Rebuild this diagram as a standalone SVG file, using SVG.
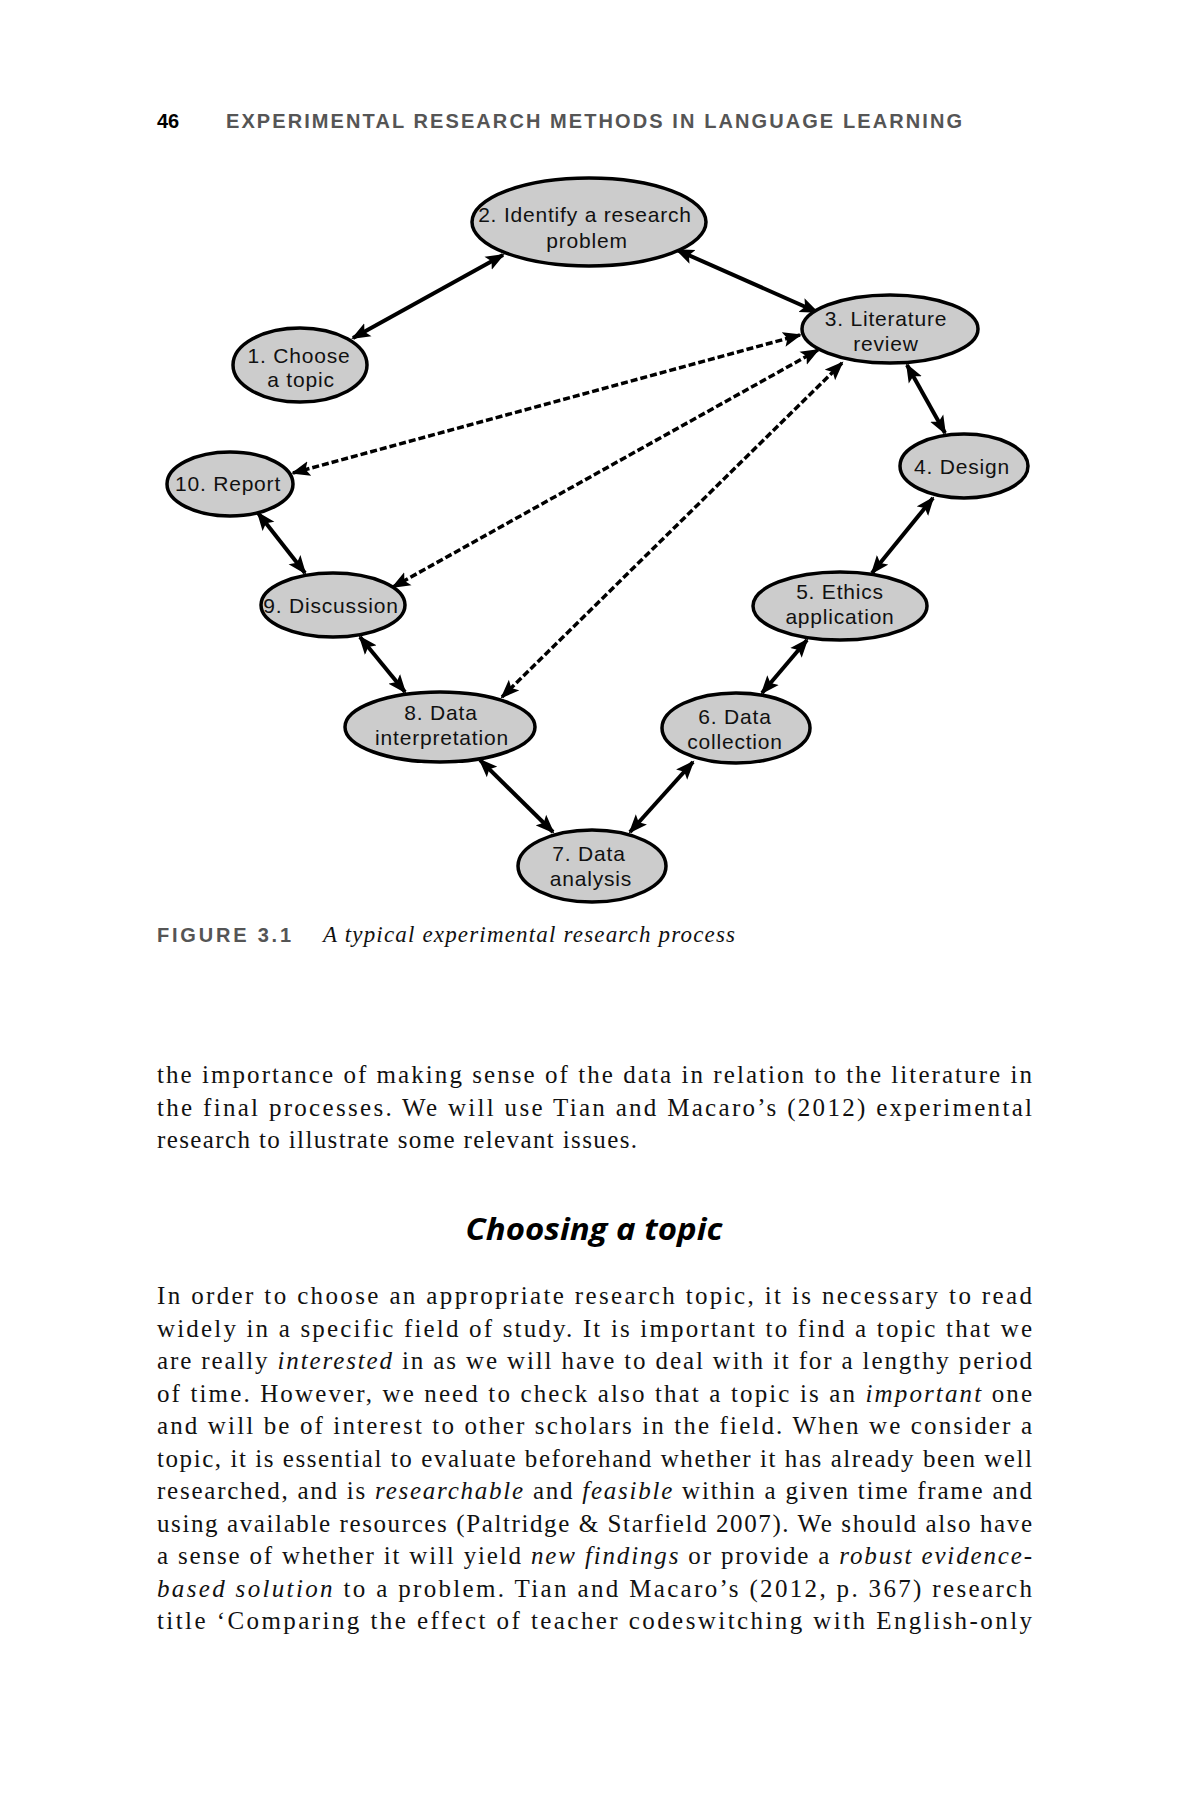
<svg xmlns="http://www.w3.org/2000/svg" width="1200" height="1800" viewBox="0 0 1200 1800">
<style>
.node ellipse{fill:#cccccc;stroke:#000;stroke-width:3.5}
.node text{font-family:"Liberation Sans",Arial,sans-serif;font-size:21px;letter-spacing:0.8px;fill:#111;text-anchor:middle}
.solid{stroke:#000;stroke-width:4;fill:none;marker-start:url(#ah);marker-end:url(#ah)}
.dash{stroke:#000;stroke-width:3.5;fill:none;stroke-dasharray:7 3;marker-start:url(#ah);marker-end:url(#ah)}
.hdr{font-family:"Liberation Sans",Arial,sans-serif;font-weight:bold;font-size:20px;fill:#555}
.body{font-family:"Liberation Serif","Times New Roman",serif;font-size:25px;fill:#111}
.it{font-style:italic}
</style>
<defs>
<marker id="ah" markerUnits="userSpaceOnUse" markerWidth="20" markerHeight="16" refX="17" refY="7.5" orient="auto-start-reverse" viewBox="0 0 20 15">
<path d="M0,0 L19,7.5 L0,15 L4,7.5 z" fill="#000"/>
</marker>
</defs>
<rect width="1200" height="1800" fill="#fff"/>

<g id="header">
<text x="157" y="128" font-family="Liberation Sans,Arial,sans-serif" font-weight="bold" font-size="20" fill="#000">46</text>
<text class="hdr" x="226" y="128" textLength="736" lengthAdjust="spacing">EXPERIMENTAL RESEARCH METHODS IN LANGUAGE LEARNING</text>
</g>

<g id="connectors">
<line class="solid" x1="353" y1="338" x2="503" y2="255"/>
<line class="solid" x1="677" y1="250" x2="817" y2="312"/>
<line class="solid" x1="907" y1="365" x2="945" y2="433"/>
<line class="solid" x1="933" y1="498" x2="872" y2="573"/>
<line class="solid" x1="807" y1="640" x2="762" y2="693"/>
<line class="solid" x1="693" y1="762" x2="630" y2="832"/>
<line class="solid" x1="480" y1="760" x2="553" y2="832"/>
<line class="solid" x1="360" y1="637" x2="405" y2="692"/>
<line class="solid" x1="258" y1="513" x2="305" y2="573"/>
<line class="dash" x1="293" y1="473" x2="800" y2="335"/>
<line class="dash" x1="393" y1="587" x2="818" y2="350"/>
<line class="dash" x1="502" y1="697" x2="842" y2="363"/>
</g>

<g id="n1" class="node"><ellipse cx="300" cy="365" rx="67" ry="37"/><text x="299" y="363">1. Choose</text><text x="301" y="387">a topic</text></g>
<g id="n2" class="node"><ellipse cx="589" cy="222" rx="117" ry="44"/><text x="585" y="222">2. Identify a research</text><text x="587" y="248">problem</text></g>
<g id="n3" class="node"><ellipse cx="890" cy="329" rx="88" ry="34"/><text x="886" y="326">3. Literature</text><text x="886" y="351">review</text></g>
<g id="n4" class="node"><ellipse cx="964" cy="466" rx="64" ry="32"/><text x="962" y="474">4. Design</text></g>
<g id="n5" class="node"><ellipse cx="840" cy="606" rx="87" ry="34"/><text x="840" y="599">5. Ethics</text><text x="840" y="624">application</text></g>
<g id="n6" class="node"><ellipse cx="736" cy="728" rx="74" ry="35"/><text x="735" y="724">6. Data</text><text x="735" y="749">collection</text></g>
<g id="n7" class="node"><ellipse cx="592" cy="866" rx="74" ry="36"/><text x="589" y="861">7. Data</text><text x="591" y="886">analysis</text></g>
<g id="n8" class="node"><ellipse cx="440" cy="727" rx="95" ry="35"/><text x="441" y="720">8. Data</text><text x="442" y="745">interpretation</text></g>
<g id="n9" class="node"><ellipse cx="333" cy="605" rx="72" ry="32"/><text x="331" y="613">9. Discussion</text></g>
<g id="n10" class="node"><ellipse cx="230" cy="484" rx="63" ry="32"/><text x="228" y="491">10. Report</text></g>

<g id="caption">
<text class="hdr" x="157" y="942" textLength="134" lengthAdjust="spacing">FIGURE 3.1</text>
<text x="323" y="942" font-family="Liberation Serif,Times New Roman,serif" font-style="italic" font-size="23" fill="#111" textLength="412" lengthAdjust="spacing">A typical experimental research process</text>
</g>

<g id="text">
<text class="body" x="157" y="1083" textLength="875" lengthAdjust="spacing">the importance of making sense of the data in relation to the literature in</text>
<text class="body" x="157" y="1116" textLength="875" lengthAdjust="spacing">the final processes. We will use Tian and Macaro’s (2012) experimental</text>
<text class="body" x="157" y="1148" textLength="480" lengthAdjust="spacing">research to illustrate some relevant issues.</text>
<text x="594" y="1240" text-anchor="middle" font-family="Open Sans,Liberation Sans,sans-serif" font-weight="bold" font-style="italic" font-size="31" fill="#000" textLength="257" lengthAdjust="spacingAndGlyphs">Choosing a topic</text>
<text class="body" x="157" y="1304" textLength="875" lengthAdjust="spacing">In order to choose an appropriate research topic, it is necessary to read</text>
<text class="body" x="157" y="1336.5" textLength="875" lengthAdjust="spacing">widely in a specific field of study. It is important to find a topic that we</text>
<text class="body" x="157" y="1369" textLength="875" lengthAdjust="spacing">are really <tspan class="it">interested</tspan> in as we will have to deal with it for a lengthy period</text>
<text class="body" x="157" y="1401.5" textLength="875" lengthAdjust="spacing">of time. However, we need to check also that a topic is an <tspan class="it">important</tspan> one</text>
<text class="body" x="157" y="1434" textLength="875" lengthAdjust="spacing">and will be of interest to other scholars in the field. When we consider a</text>
<text class="body" x="157" y="1466.5" textLength="875" lengthAdjust="spacing">topic, it is essential to evaluate beforehand whether it has already been well</text>
<text class="body" x="157" y="1499" textLength="875" lengthAdjust="spacing">researched, and is <tspan class="it">researchable</tspan> and <tspan class="it">feasible</tspan> within a given time frame and</text>
<text class="body" x="157" y="1531.5" textLength="875" lengthAdjust="spacing">using available resources (Paltridge &amp; Starfield 2007). We should also have</text>
<text class="body" x="157" y="1564" textLength="875" lengthAdjust="spacing">a sense of whether it will yield <tspan class="it">new findings</tspan> or provide a <tspan class="it">robust evidence-</tspan></text>
<text class="body" x="157" y="1596.5" textLength="875" lengthAdjust="spacing"><tspan class="it">based solution</tspan> to a problem. Tian and Macaro’s (2012, p. 367) research</text>
<text class="body" x="157" y="1629" textLength="875" lengthAdjust="spacing">title ‘Comparing the effect of teacher codeswitching with English-only</text>
</g>
</svg>
